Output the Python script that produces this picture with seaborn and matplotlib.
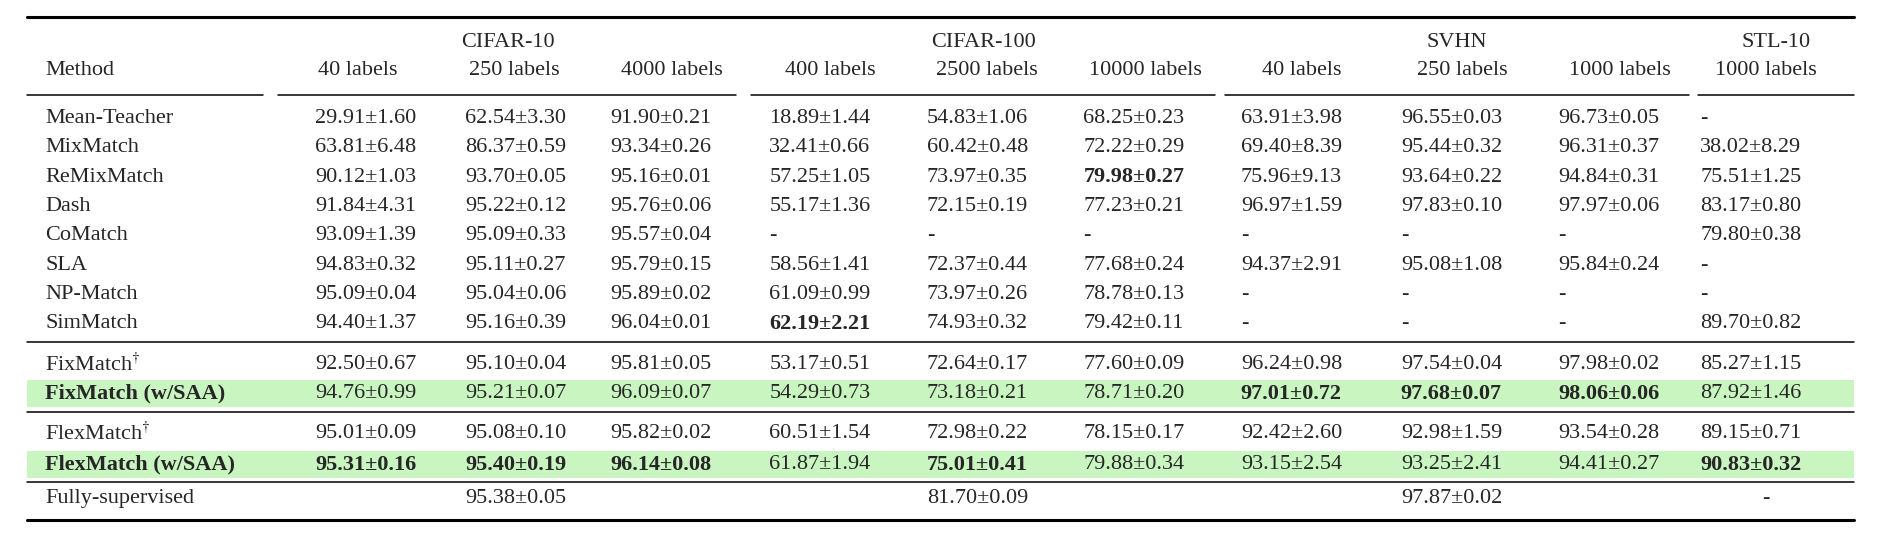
import seaborn as sns
import matplotlib.pyplot as plt

methods = ["Mean-Teacher", "MixMatch", "ReMixMatch", "Dash", "CoMatch", "SLA", "NP-Match", "SimMatch",
           "FixMatch$^{\\dagger}$", "FixMatch (w/SAA)", "FlexMatch$^{\\dagger}$", "FlexMatch (w/SAA)"]
datasets = ["CIFAR-10", "CIFAR-100", "SVHN", "STL-10"]
label_cols = ["40 labels", "250 labels", "4000 labels", "400 labels", "2500 labels", "10000 labels",
              "40 labels", "250 labels", "1000 labels", "1000 labels"]
values = [
    ["29.91±1.60", "62.54±3.30", "91.90±0.21", "18.89±1.44", "54.83±1.06", "68.25±0.23", "63.91±3.98", "96.55±0.03", "96.73±0.05", "-"],
    ["63.81±6.48", "86.37±0.59", "93.34±0.26", "32.41±0.66", "60.42±0.48", "72.22±0.29", "69.40±8.39", "95.44±0.32", "96.31±0.37", "38.02±8.29"],
    ["90.12±1.03", "93.70±0.05", "95.16±0.01", "57.25±1.05", "73.97±0.35", "79.98±0.27", "75.96±9.13", "93.64±0.22", "94.84±0.31", "75.51±1.25"],
    ["91.84±4.31", "95.22±0.12", "95.76±0.06", "55.17±1.36", "72.15±0.19", "77.23±0.21", "96.97±1.59", "97.83±0.10", "97.97±0.06", "83.17±0.80"],
    ["93.09±1.39", "95.09±0.33", "95.57±0.04", "-", "-", "-", "-", "-", "-", "79.80±0.38"],
    ["94.83±0.32", "95.11±0.27", "95.79±0.15", "58.56±1.41", "72.37±0.44", "77.68±0.24", "94.37±2.91", "95.08±1.08", "95.84±0.24", "-"],
    ["95.09±0.04", "95.04±0.06", "95.89±0.02", "61.09±0.99", "73.97±0.26", "78.78±0.13", "-", "-", "-", "-"],
    ["94.40±1.37", "95.16±0.39", "96.04±0.01", "62.19±2.21", "74.93±0.32", "79.42±0.11", "-", "-", "-", "89.70±0.82"],
    ["92.50±0.67", "95.10±0.04", "95.81±0.05", "53.17±0.51", "72.64±0.17", "77.60±0.09", "96.24±0.98", "97.54±0.04", "97.98±0.02", "85.27±1.15"],
    ["94.76±0.99", "95.21±0.07", "96.09±0.07", "54.29±0.73", "73.18±0.21", "78.71±0.20", "97.01±0.72", "97.68±0.07", "98.06±0.06", "87.92±1.46"],
    ["95.01±0.09", "95.08±0.10", "95.82±0.02", "60.51±1.54", "72.98±0.22", "78.15±0.17", "92.42±2.60", "92.98±1.59", "93.54±0.28", "89.15±0.71"],
    ["95.31±0.16", "95.40±0.19", "96.14±0.08", "61.87±1.94", "75.01±0.41", "79.88±0.34", "93.15±2.54", "93.25±2.41", "94.41±0.27", "90.83±0.32"],
]
bold = {(2, 5), (7, 3), (9, 6), (9, 7), (9, 8), (11, 0), (11, 1), (11, 2), (11, 4), (11, 9)}
bold_methods = {9, 11}
fully_values = ["95.38±0.05", "81.70±0.09", "97.87±0.02", "-"]

# layout (in display units)
col_left = [258, 381, 500, 630, 759, 887, 1016, 1147, 1276, 1392]
col_center = [293, 421, 550, 680, 808, 938, 1066, 1197, 1326, 1446]
group_span = [(228, 603), (615, 995), (1003, 1383), (1390, 1518)]
row_y = [97, 121, 145, 169, 193, 217, 241, 265, 298, 322, 355, 380]
fully_x = [381, 759, 1147, 1446]

sns.set_theme(style="white")
plt.rcParams["font.family"] = ["Liberation Serif", "DejaVu Serif"]
plt.rcParams["mathtext.fontset"] = "stix"
fig, ax = plt.subplots(figsize=(18.93, 5.33), dpi=100)
fig.subplots_adjust(0, 0, 1, 1)
ax.set_xlim(0, 1550)
ax.set_ylim(436, 0)
ax.axis("off")
fs = 16

for y in (322, 380):
    ax.axhspan(y - 11, y + 11, xmin=22 / 1550, xmax=1518 / 1550, color="#c8f5c0", lw=0)

ax.plot([22, 1518], [14, 14], color="black", lw=2.2)
ax.plot([22, 1518], [425, 425], color="black", lw=2.2)
for y in (280, 337, 394):
    ax.plot([22, 1518], [y, y], color="black", lw=1.1)
ax.plot([22, 215], [78, 78], color="black", lw=1.1)
for (a, b), name in zip(group_span, datasets):
    ax.plot([a, b], [78, 78], color="black", lw=1.1)
    ax.text((a + b) / 2, 35, name, ha="center", va="center", fontsize=fs)
ax.text(37, 58, "Method", ha="left", va="center", fontsize=fs)
for x, lab in zip(col_center, label_cols):
    ax.text(x, 58, lab, ha="center", va="center", fontsize=fs)

for i, (m, y) in enumerate(zip(methods, row_y)):
    ax.text(37, y, m, ha="left", va="center", fontsize=fs,
            fontweight="bold" if i in bold_methods else "normal")
    for j, v in enumerate(values[i]):
        ax.text(col_left[j], y, v, ha="left", va="center", fontsize=fs,
                fontweight="bold" if (i, j) in bold else "normal")

ax.text(37, 408, "Fully-supervised", ha="left", va="center", fontsize=fs)
for x, v in zip(fully_x, fully_values):
    ax.text(x, 408, v, ha="left" if v != "-" else "center", va="center", fontsize=fs)

fig.savefig("out.png", dpi=100)
